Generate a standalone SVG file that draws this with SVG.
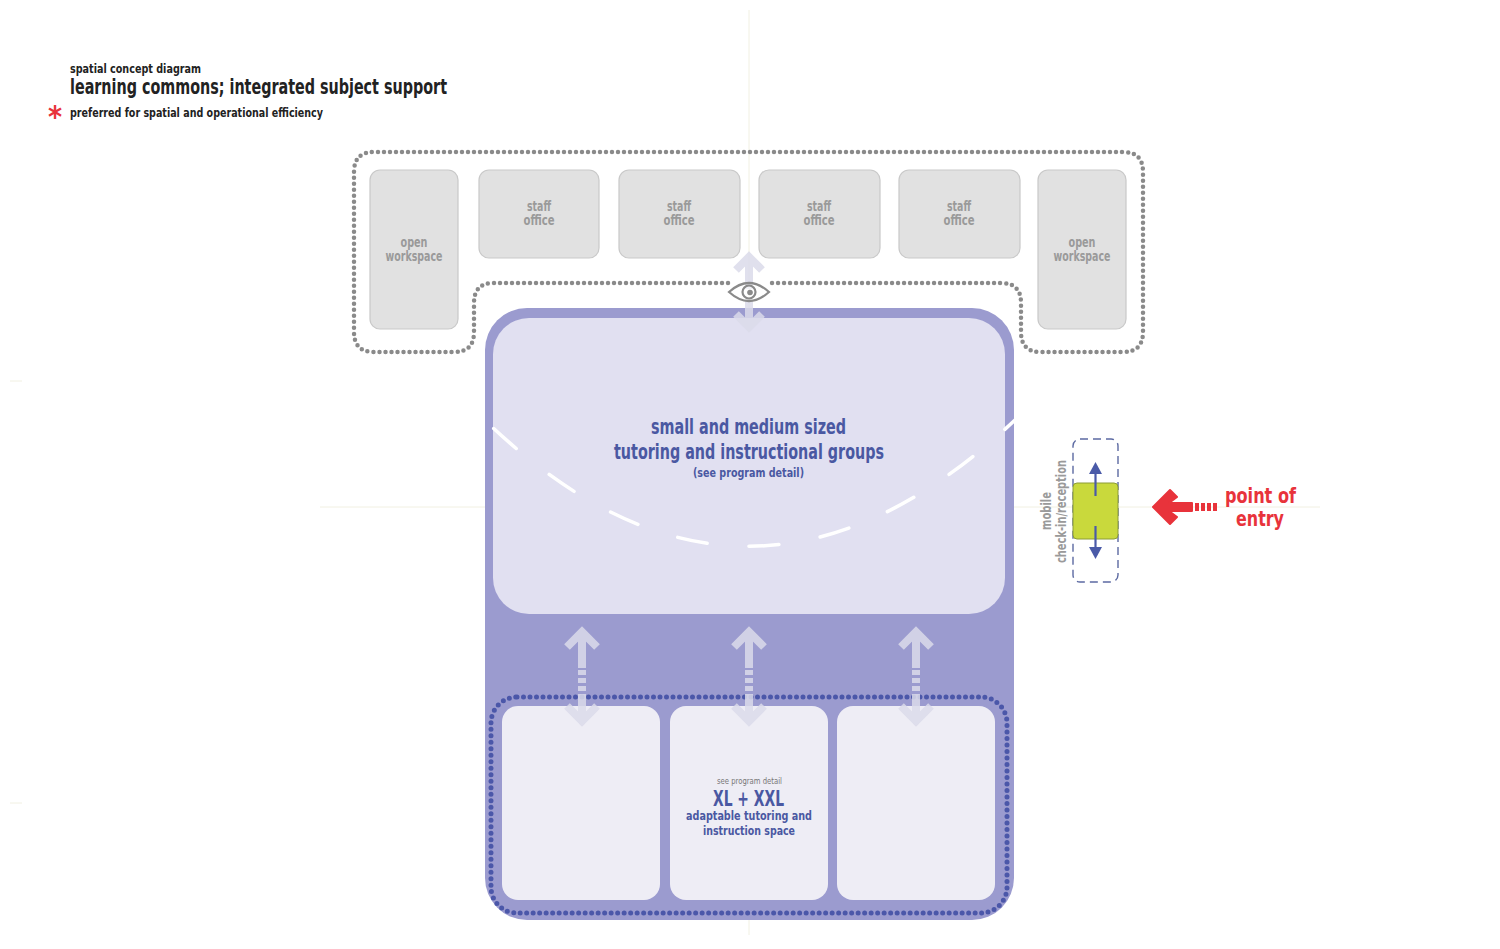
<svg xmlns="http://www.w3.org/2000/svg" width="1500" height="949" viewBox="0 0 1500 949">
<style>
text{font-family:"DejaVu Sans Condensed","DejaVu Sans",Roboto,sans-serif;font-weight:bold;}
.gbox{fill:#e1e1e1;stroke:#c9c9c9;stroke-width:1.2;}
.glab{fill:#9a9a9a;font-size:14px;text-anchor:middle;}
.blue{fill:#4a58a2;text-anchor:middle;}
.dots{fill:none;stroke-linecap:round;}
.arr{fill:none;stroke:#dadaea;stroke-width:8;stroke-opacity:0.85;}
.guide{stroke:#f1f0e2;stroke-width:1;fill:none;}
</style>
<rect width="1500" height="949" fill="#ffffff"/>
<g id="guides">
<line class="guide" x1="749" y1="10" x2="749" y2="935"/>
<line class="guide" x1="320" y1="507" x2="1320" y2="507"/>
<line class="guide" x1="10" y1="381" x2="22" y2="381"/>
<line class="guide" x1="10" y1="803" x2="22" y2="803"/>
</g>
<g id="title">
<text x="70" y="73" font-size="13" fill="#222" textLength="131" lengthAdjust="spacingAndGlyphs">spatial concept diagram</text>
<text x="70" y="94" font-size="21" fill="#222" textLength="377" lengthAdjust="spacingAndGlyphs">learning commons; integrated subject support</text>
<text x="70" y="117" font-size="13" fill="#222" textLength="253" lengthAdjust="spacingAndGlyphs">preferred for spatial and operational efficiency</text>
<text x="55" y="127" font-size="30" fill="#e8333b" text-anchor="middle">*</text>
</g>
<g id="staff-zone">
<path class="dots" stroke="#8a8a8a" stroke-width="4.5" stroke-dasharray="0 6" d="M728 283 L494 283 Q474 283 474 303 L474 332 Q474 352 454 352 L374 352 Q354 352 354 332 L354 172 Q354 152 374 152 L1123 152 Q1143 152 1143 172 L1143 332 Q1143 352 1123 352 L1041 352 Q1021 352 1021 332 L1021 303 Q1021 283 1001 283 L772 283"/>
</g>
<g id="open-workspace-left">
<rect class="gbox" x="370" y="170" width="88" height="159" rx="10"/>
<text class="glab" x="414" y="247" textLength="27" lengthAdjust="spacingAndGlyphs">open</text>
<text class="glab" x="414" y="261" textLength="57" lengthAdjust="spacingAndGlyphs">workspace</text>
</g>
<g id="staff-office-1">
<rect class="gbox" x="479" y="170" width="120" height="88" rx="10"/>
<text class="glab" x="539" y="211" textLength="24" lengthAdjust="spacingAndGlyphs">staff</text>
<text class="glab" x="539" y="225" textLength="31" lengthAdjust="spacingAndGlyphs">office</text>
</g>
<g id="staff-office-2">
<rect class="gbox" x="619" y="170" width="121" height="88" rx="10"/>
<text class="glab" x="679" y="211" textLength="24" lengthAdjust="spacingAndGlyphs">staff</text>
<text class="glab" x="679" y="225" textLength="31" lengthAdjust="spacingAndGlyphs">office</text>
</g>
<g id="staff-office-3">
<rect class="gbox" x="759" y="170" width="121" height="88" rx="10"/>
<text class="glab" x="819" y="211" textLength="24" lengthAdjust="spacingAndGlyphs">staff</text>
<text class="glab" x="819" y="225" textLength="31" lengthAdjust="spacingAndGlyphs">office</text>
</g>
<g id="staff-office-4">
<rect class="gbox" x="899" y="170" width="121" height="88" rx="10"/>
<text class="glab" x="959" y="211" textLength="24" lengthAdjust="spacingAndGlyphs">staff</text>
<text class="glab" x="959" y="225" textLength="31" lengthAdjust="spacingAndGlyphs">office</text>
</g>
<g id="open-workspace-right">
<rect class="gbox" x="1038" y="170" width="88" height="159" rx="10"/>
<text class="glab" x="1082" y="247" textLength="27" lengthAdjust="spacingAndGlyphs">open</text>
<text class="glab" x="1082" y="261" textLength="57" lengthAdjust="spacingAndGlyphs">workspace</text>
</g>
<g id="learning-commons">
<rect x="485" y="308" width="529" height="612" rx="42" fill="#9b9bcf"/>
</g>
<g id="small-medium-groups">
<rect x="493" y="318" width="512" height="296" rx="36" fill="#e1e0f1"/>
<path d="M490 425 Q749 670 1015 420" fill="none" stroke="#ffffff" stroke-width="3.5" stroke-linecap="round" stroke-dasharray="30 42" stroke-dashoffset="-5"/>
<text class="blue" x="748.5" y="434" font-size="21" textLength="195" lengthAdjust="spacingAndGlyphs">small and medium sized</text>
<text class="blue" x="749" y="459" font-size="21" textLength="270" lengthAdjust="spacingAndGlyphs">tutoring and instructional groups</text>
<text class="blue" x="748.5" y="477" font-size="13" textLength="111" lengthAdjust="spacingAndGlyphs">(see program detail)</text>
</g>
<g id="xl-zone">
<rect x="502" y="706" width="158" height="194" rx="16" fill="#eeedf5"/>
<rect x="670" y="706" width="158" height="194" rx="16" fill="#eeedf5"/>
<rect x="837" y="706" width="158" height="194" rx="16" fill="#eeedf5"/>
<rect class="dots" stroke="#4b57a9" stroke-width="5" stroke-dasharray="0 6.5" x="491" y="697" width="516" height="216" rx="26"/>
<text x="749.5" y="784" font-size="8" fill="#777" text-anchor="middle" style="font-weight:normal" textLength="65" lengthAdjust="spacingAndGlyphs">see program detail</text>
<text class="blue" x="748.5" y="806" font-size="21" textLength="71" lengthAdjust="spacingAndGlyphs">XL + XXL</text>
<text class="blue" x="749" y="820" font-size="13" textLength="126" lengthAdjust="spacingAndGlyphs">adaptable tutoring and</text>
<text class="blue" x="749" y="835" font-size="13" textLength="92" lengthAdjust="spacingAndGlyphs">instruction space</text>
</g>
<g id="connectors">
<g class="arr">
<path d="M736 270 L749 257 L762 270 M749 259 L749 289"/>
<path d="M749 300 L749 327 M736 314 L749 327 L762 314"/>
</g>
<g class="arr">
<path d="M567 647 L582 632 L597 647 M582 634 L582 668"/>
<path d="M582 670 L582 694" stroke-dasharray="5 3"/>
<path d="M582 694 L582 719 M567 706 L582 721 L597 706"/>
</g>
<g class="arr">
<path d="M734 647 L749 632 L764 647 M749 634 L749 668"/>
<path d="M749 670 L749 694" stroke-dasharray="5 3"/>
<path d="M749 694 L749 719 M734 706 L749 721 L764 706"/>
</g>
<g class="arr">
<path d="M901 647 L916 632 L931 647 M916 634 L916 668"/>
<path d="M916 670 L916 694" stroke-dasharray="5 3"/>
<path d="M916 694 L916 719 M901 706 L916 721 L931 706"/>
</g>
<g id="eye">
<path d="M729 292 Q749 274 769 292 Q749 310 729 292 Z" fill="#ffffff" fill-opacity="0.6" stroke="#8a8a8a" stroke-width="2.2"/>
<circle cx="749" cy="292" r="6.5" fill="none" stroke="#8a8a8a" stroke-width="2.2"/>
<circle cx="750" cy="292.5" r="2.8" fill="#8a8a8a"/>
</g>
</g>
<g id="reception">
<rect x="1073" y="439" width="45" height="143" rx="7" fill="none" stroke="#5c6aa2" stroke-width="1.4" stroke-dasharray="8 5"/>
<rect x="1073" y="483" width="45" height="56" rx="4" fill="#c9d93c" stroke="#8c9c36" stroke-width="1"/>
<path d="M1095.5 496 L1095.5 472" stroke="#4a5aa8" stroke-width="2.2"/>
<path d="M1089 474 L1095.5 462 L1102 474 Z" fill="#4a5aa8"/>
<path d="M1095.5 526 L1095.5 549" stroke="#4a5aa8" stroke-width="2.2"/>
<path d="M1089 547 L1095.5 559 L1102 547 Z" fill="#4a5aa8"/>
<text class="glab" transform="translate(1051 511) rotate(-90)" font-size="13" textLength="38" lengthAdjust="spacingAndGlyphs">mobile</text>
<text class="glab" transform="translate(1066 511.5) rotate(-90)" font-size="13" textLength="103" lengthAdjust="spacingAndGlyphs">check-in/reception</text>
</g>
<g id="point-of-entry">
<path d="M1153 507 L1170 490 L1177 497 L1169 503 L1192 503 L1192 511 L1169 511 L1177 517 L1170 524 Z" fill="#e8333b" stroke="#e8333b" stroke-width="2" stroke-linejoin="round"/>
<path d="M1195 507 L1217 507" stroke="#e8333b" stroke-width="8" stroke-dasharray="4 2"/>
<text x="1260.5" y="503" font-size="21" fill="#e8333b" text-anchor="middle" textLength="71" lengthAdjust="spacingAndGlyphs">point of</text>
<text x="1260" y="526" font-size="21" fill="#e8333b" text-anchor="middle" textLength="48" lengthAdjust="spacingAndGlyphs">entry</text>
</g>
</svg>
